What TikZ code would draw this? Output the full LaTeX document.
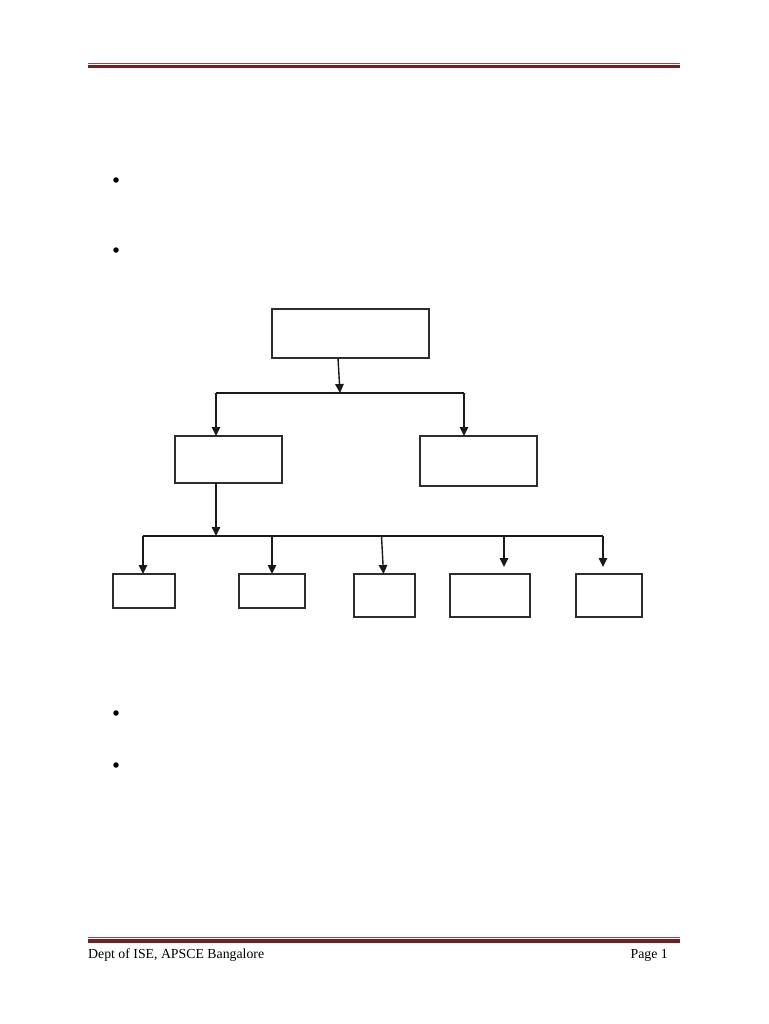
\documentclass[tikz,border=0pt]{standalone}
\usepackage{fontspec}
\setmainfont{Liberation Serif}
\usetikzlibrary{arrows.meta}
\definecolor{rule}{RGB}{115,30,32}
\definecolor{rulelt}{RGB}{150,70,70}
\definecolor{boxc}{RGB}{45,45,45}
\begin{document}
\begin{tikzpicture}[x=1pt,y=-1pt,
  blk/.style={draw=boxc,line width=1.5pt},
  con/.style={line width=1.4pt,draw=black!90},
  arr/.style={con,-{Triangle[length=9pt,width=8.5pt]}},
  dot/.style={circle,fill=black,inner sep=0pt,minimum size=5.5pt}]
\useasboundingbox (0,0) rectangle (768,1024);
% header rules
\draw[rulelt,line width=1.2pt] (88,63.3) -- (680,63.3);
\draw[rule,line width=3.4pt] (88,66.8) -- (680,66.8);
% footer rules
\draw[rulelt,line width=1.2pt] (88,937.3) -- (680,937.3);
\draw[rule,line width=3.4pt] (88,940.8) -- (680,940.8);
\node[anchor=base west,inner sep=0pt,font=\fontsize{13.8}{16}\selectfont] (ftl) at (88,958.5) {Dept of ISE, APSCE Bangalore};
\node[anchor=base east,inner sep=0pt,font=\fontsize{13.8}{16}\selectfont] (ftr) at (668,958.5) {Page 1};
% bullets
\node[dot] (b1) at (116,180) {};
\node[dot] (b2) at (116,250) {};
\node[dot] (b3) at (116,713) {};
\node[dot] (b4) at (116,765) {};
% boxes
\path[blk] (272,309) rectangle (429,358);
\coordinate (top) at (338,358);
\path[blk] (175,436) rectangle (282,483);
\path[blk] (420,436) rectangle (537,486);
\path[blk] (113,574) rectangle (175,608);
\path[blk] (239,574) rectangle (305,608);
\path[blk] (354,574) rectangle (415,617);
\path[blk] (450,574) rectangle (530,617);
\path[blk] (576,574) rectangle (642,617);
% connectors level 1
\coordinate (h1) at (340,393);
\coordinate (h1l) at (216,393);
\coordinate (h1r) at (464,393);
\coordinate (lt) at (216,436);
\coordinate (rt) at (464,436);
\draw[arr] (top) -- (h1);
\draw[con] (h1l) -- (h1r);
\draw[arr] (h1l) -- (lt);
\draw[arr] (h1r) -- (rt);
% level 2
\coordinate (lb) at (216,483);
\coordinate (h2) at (216,536);
\coordinate (h2l) at (143,536);
\coordinate (h2r) at (603,536);
\draw[arr] (lb) -- (h2);
\draw[con] (h2l) -- (h2r);
\coordinate (c1) at (143,574);
\coordinate (s2) at (272,536);
\coordinate (c2) at (272,574);
\coordinate (s3) at (381.5,536);
\coordinate (c3) at (383.5,574);
\coordinate (s4) at (504,536);
\coordinate (c4) at (504,567);
\coordinate (c5) at (603,567);
\draw[arr] (h2l) -- (c1);
\draw[arr] (s2) -- (c2);
\draw[arr] (s3) -- (c3);
\draw[arr] (s4) -- (c4);
\draw[arr] (h2r) -- (c5);
\end{tikzpicture}
\end{document}
